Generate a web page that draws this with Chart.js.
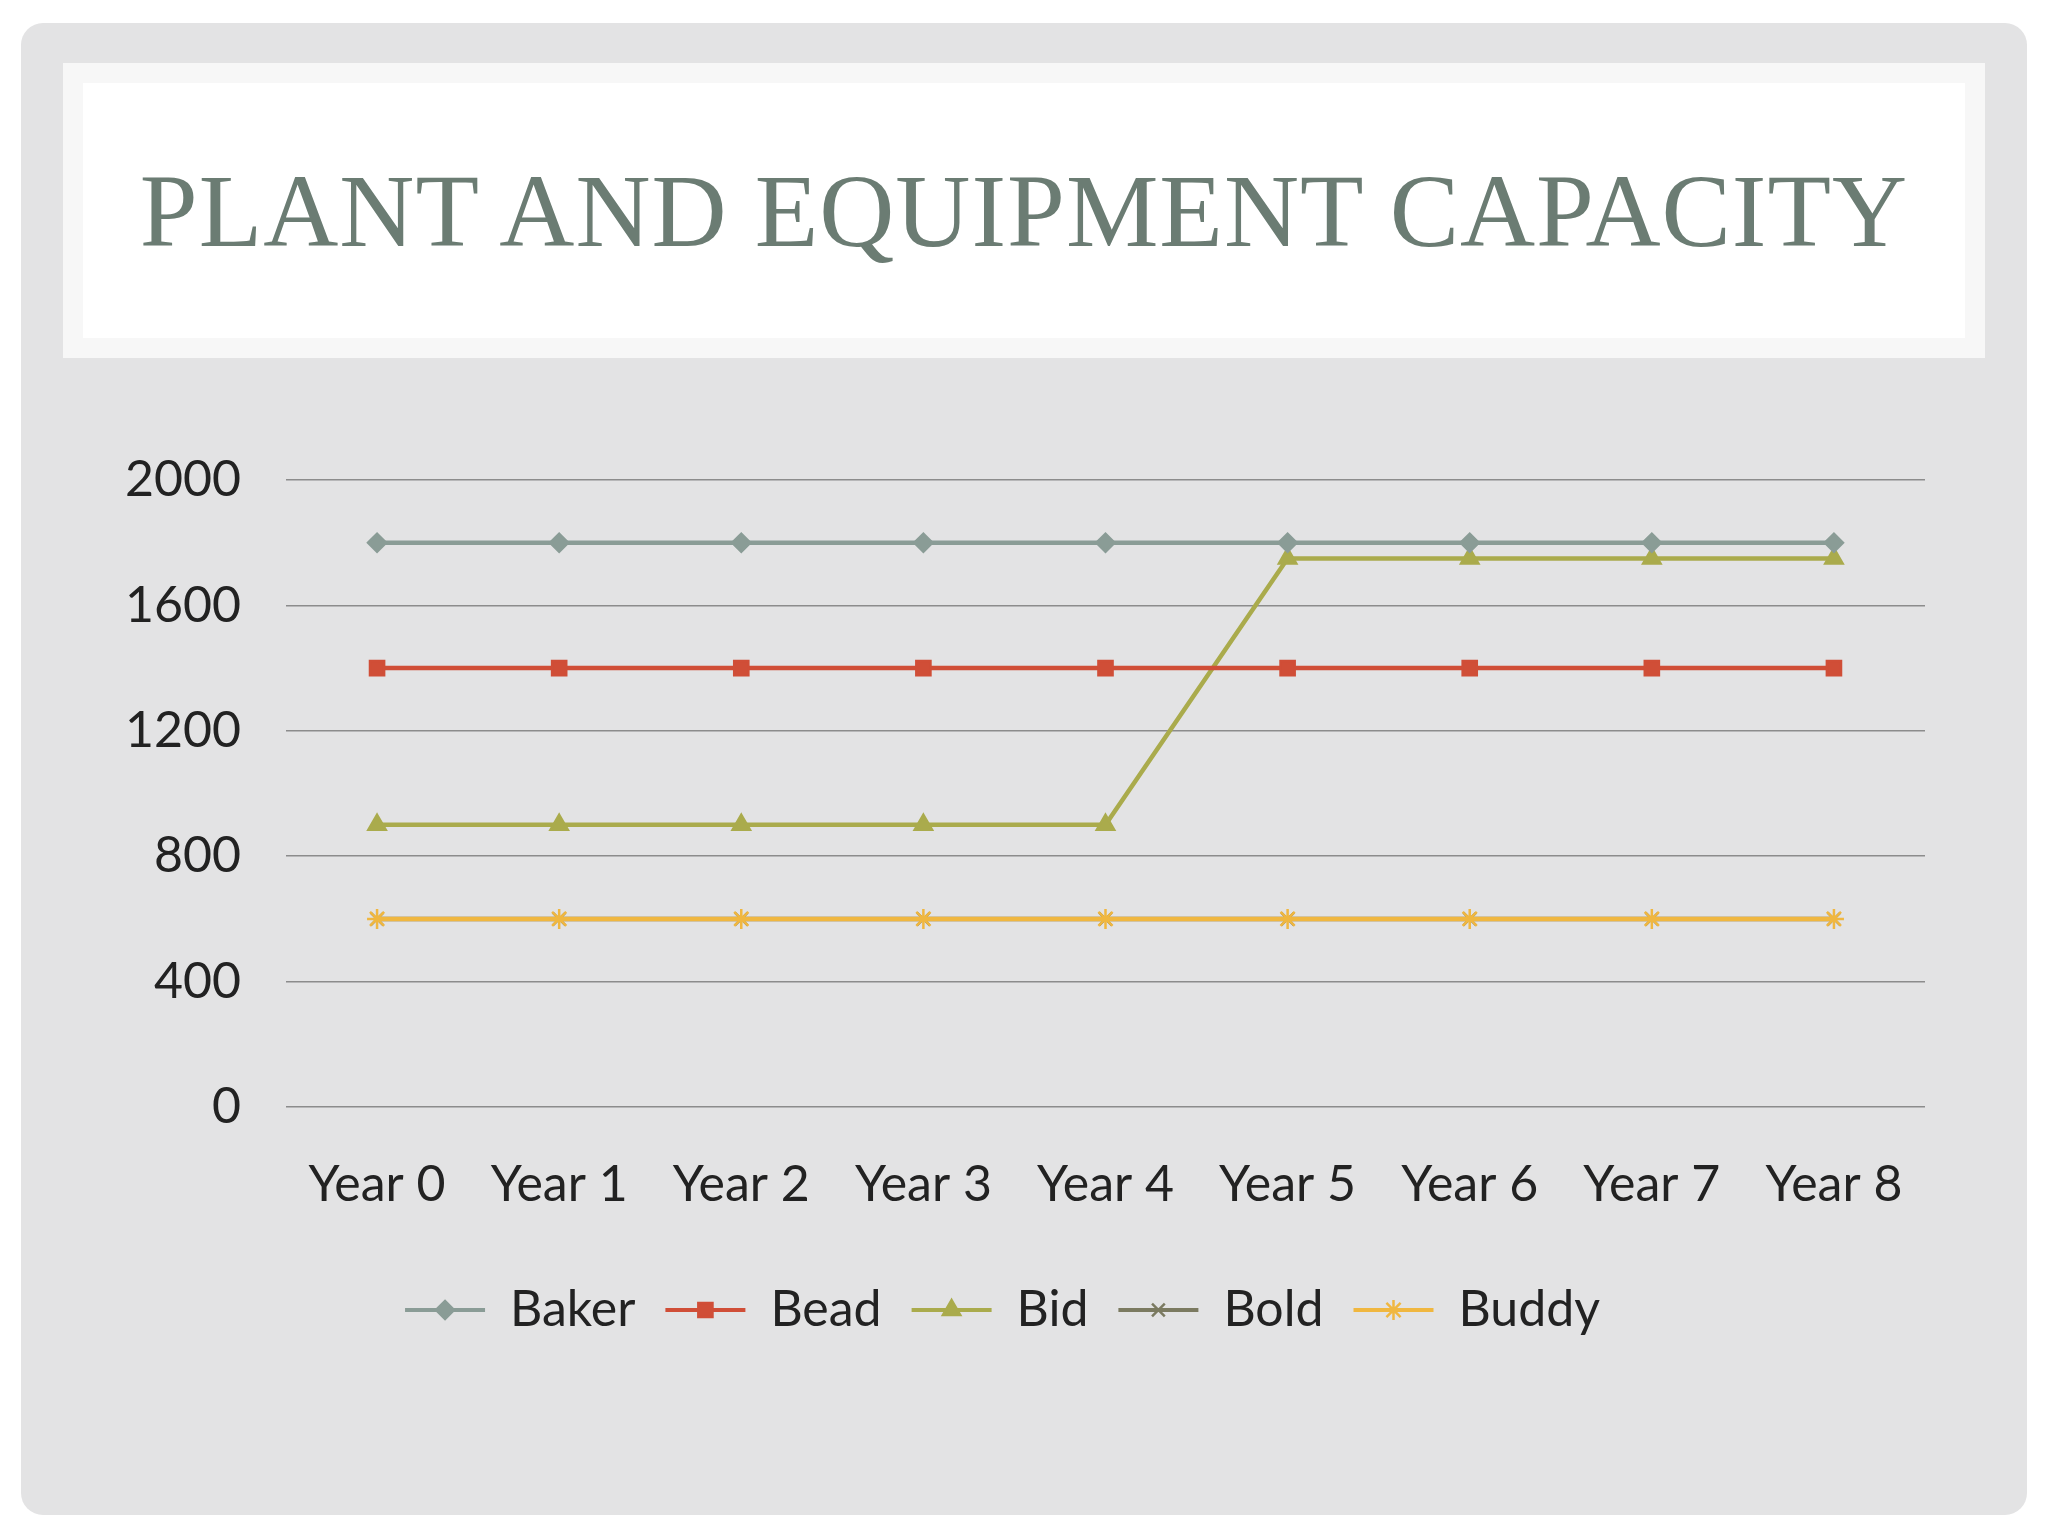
<!DOCTYPE html>
<html><head><meta charset="utf-8">
<script src="https://cdn.jsdelivr.net/npm/chart.js@4/dist/chart.umd.min.js"></script>
<style>
body{margin:0;width:2048px;height:1536px;background:#fff;position:relative;overflow:hidden;font-family:Lato,sans-serif}
#card{position:absolute;left:21px;top:23px;width:2006px;height:1492px;background:#e3e3e4;border-radius:22px}
#titlebox{position:absolute;left:63px;top:63px;width:1922px;height:295px;background:#f7f7f7}
#titleinner{position:absolute;left:20px;top:20px;right:20px;bottom:20px;background:#fff;display:flex;align-items:center;justify-content:center;
 font-family:"Liberation Serif","DejaVu Serif",serif;font-size:104px;color:#6b7c73;letter-spacing:1px}
#wrap{position:absolute;left:80px;top:405px;width:1890px;height:940px}
</style></head><body>
<div id="card"></div>
<div id="titlebox"><div id="titleinner">PLANT AND EQUIPMENT CAPACITY</div></div>
<div id="wrap"><canvas id="c"></canvas></div>
<script>
const years = ['Year 0','Year 1','Year 2','Year 3','Year 4','Year 5','Year 6','Year 7','Year 8'];
const baker = [1800,1800,1800,1800,1800,1800,1800,1800,1800];
const bead = [1400,1400,1400,1400,1400,1400,1400,1400,1400];
const bid = [900,900,900,900,900,1750,1750,1750,1750];
const bold = [600,600,600,600,600,600,600,600,600];
const buddy = [600,600,600,600,600,600,600,600,600];

function ds(label, data, color, style, size, order) {
   return {label, data, borderColor: color, backgroundColor: color, pointStyle: style, order,
      pointRadius: size, pointBorderWidth: 2.5, borderWidth: 4.5, tension: 0};
}

// draw the marker on top of each legend line
const legendMarkers = {
   id: 'legendMarkers',
   afterDraw(chart) {
      const boxes = chart.legend.legendHitBoxes;
      const ctx = chart.ctx;
      chart.legend.legendItems.forEach((item, i) => {
         const d = chart.data.datasets[item.datasetIndex];
         const b = boxes[i];
         ctx.save();
         ctx.fillStyle = d.backgroundColor;
         ctx.strokeStyle = d.borderColor;
         ctx.lineWidth = 2.5;
         Chart.helpers.drawPoint(ctx, {pointStyle: d.pointStyle, radius: d.pointRadius, borderWidth: 2.5},
            b.left + 40, b.top + b.height / 2);
         ctx.restore();
      });
   }
};

new Chart(document.getElementById('c'), {
   type: 'line',
   data: {
      labels: years,
      datasets: [
         ds('Baker', baker, '#8a9c96', 'rectRot', 9, 1),
         ds('Bead', bead, '#d04e37', 'rect', 10, 2),
         ds('Bid', bid, '#aaab4c', 'triangle', 10, 3),
         ds('Bold', bold, '#7b7a60', 'crossRot', 9, 5),
         ds('Buddy', buddy, '#f0b740', 'star', 10, 4)
      ]
   },
   plugins: [legendMarkers],
   options: {
      responsive: true, maintainAspectRatio: false, animation: false,
      layout: {padding: {right: 45}},
      plugins: {
         legend: {position: 'bottom', labels: {boxWidth: 80, boxHeight: 4,
            font: {size: 50, family: 'Lato'}, color: '#222', padding: 30,
            sort: (a, b) => a.datasetIndex - b.datasetIndex,
            generateLabels: chart => Chart.defaults.plugins.legend.labels.generateLabels(chart).map(l => ({...l, lineWidth: 0}))}},
         tooltip: {enabled: false}
      },
      scales: {
         x: {offset: true, grid: {display: false}, border: {display: false},
            ticks: {font: {size: 50, family: 'Lato'}, color: '#222', padding: 40, maxRotation: 0}},
         y: {min: 0, max: 2000, grid: {color: '#8c8c8c', lineWidth: 1.5, drawTicks: false}, border: {display: false},
            ticks: {stepSize: 200, font: {size: 50, family: 'Lato'}, color: '#222', padding: 45,
               callback: v => String(v)}}
      }
   }
});
</script></body></html>
